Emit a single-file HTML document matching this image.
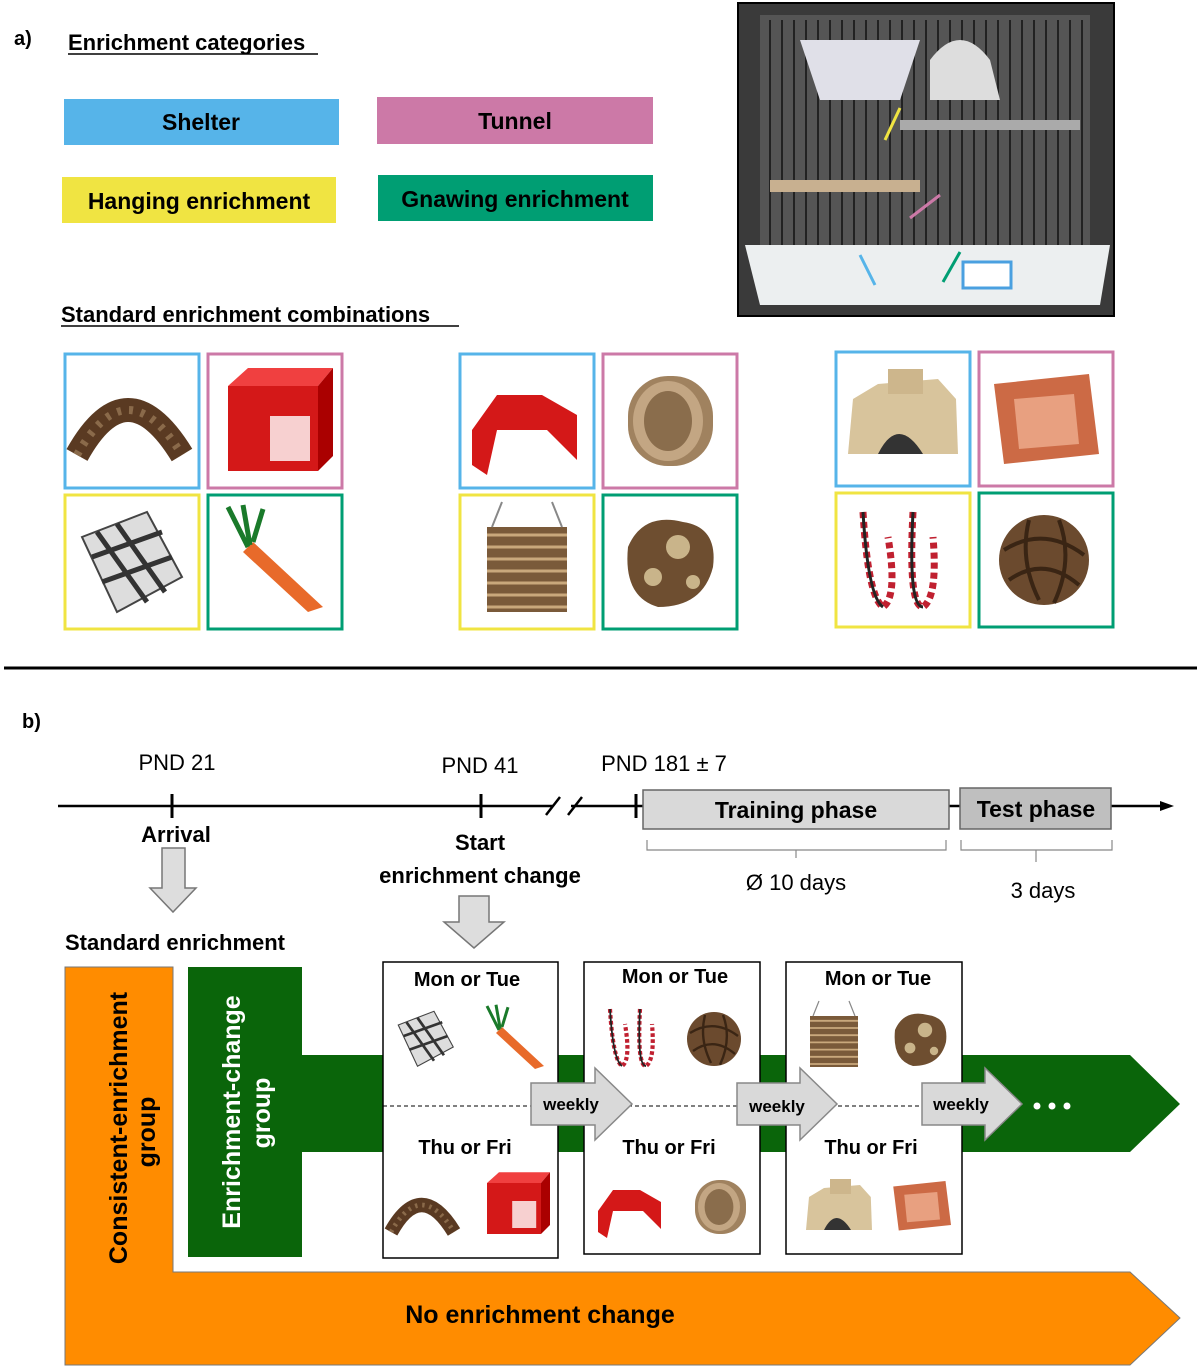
<!DOCTYPE html>
<html><head><meta charset="utf-8"><style>
body{margin:0;background:#fff}
svg{display:block;font-family:"Liberation Sans",sans-serif}
.b{font-weight:bold}
</style></head><body>
<svg width="1200" height="1369" viewBox="0 0 1200 1369" xmlns="http://www.w3.org/2000/svg">
<defs>
<g id="logs"><path d="M10 95 Q60 5 115 95" stroke="#5a3a22" stroke-width="24" fill="none"/><path d="M10 95 Q60 5 115 95" stroke="#8a6a4a" stroke-width="8" fill="none" stroke-dasharray="4 8"/></g>
<g id="cube"><rect x="20" y="30" width="90" height="85" fill="#d41818"/><polygon points="20,30 40,12 125,12 110,30" fill="#f04040"/><polygon points="110,30 125,12 125,100 110,115" fill="#a00"/><rect x="62" y="60" width="40" height="45" fill="#fff" opacity=".8"/></g>
<g id="cloth"><polygon points="15,40 80,15 115,80 50,115" fill="#ddd" stroke="#444" stroke-width="2"/><path d="M30 35 L80 105 M50 27 L98 95 M25 60 L95 35 M35 85 L105 60" stroke="#333" stroke-width="5"/></g>
<g id="carrot"><path d="M45 45 L115 110 L100 115 L35 55 Z" fill="#e86a2a"/><path d="M40 50 L20 10 M42 48 L35 8 M45 45 L55 12" stroke="#1a7a2a" stroke-width="5"/></g>
<g id="roof"><polygon points="10,60 35,25 80,25 115,45 115,90 85,60 35,60 25,105 10,95" fill="#d41818"/></g>
<g id="tube"><rect x="25" y="20" width="85" height="90" rx="40" fill="#a0825f"/><ellipse cx="65" cy="65" rx="35" ry="40" fill="#c3a683"/><ellipse cx="65" cy="65" rx="24" ry="30" fill="#8a6d4c"/></g>
<g id="ladder"><rect x="25" y="30" width="80" height="85" fill="#7a5a3a"/><path d="M25 38 H105 M25 50 H105 M25 62 H105 M25 74 H105 M25 86 H105 M25 98 H105 M25 110 H105" stroke="#c9a87c" stroke-width="3"/><path d="M30 30 L40 5 M100 30 L90 5" stroke="#888" stroke-width="2"/></g>
<g id="rock"><path d="M25 50 Q40 15 80 25 Q115 30 110 70 Q100 110 55 110 Q20 100 25 50Z" fill="#6e4e30"/><circle cx="75" cy="50" r="12" fill="#c9b48a"/><circle cx="50" cy="80" r="9" fill="#c9b48a"/><circle cx="90" cy="85" r="7" fill="#c9b48a"/></g>
<g id="house"><path d="M10 100 L15 45 L40 30 L100 25 L118 45 L120 100 Z" fill="#d8c49c"/><path d="M40 100 Q60 60 85 100Z" fill="#333"/><rect x="50" y="15" width="35" height="25" fill="#cdb68c"/></g>
<g id="terra"><polygon points="15,30 110,20 120,100 25,110" fill="#cc6a45"/><polygon points="35,45 95,40 100,90 40,95" fill="#e8a080"/></g>
<g id="rope"><path d="M25 15 Q30 100 45 110 Q60 100 50 40 M75 15 Q70 110 85 110 Q100 100 95 40" stroke="#c02030" stroke-width="7" fill="none" stroke-dasharray="6 4"/><path d="M25 15 Q30 100 45 110 M75 15 Q70 110 85 110" stroke="#222" stroke-width="3" fill="none"/></g>
<g id="ball"><circle cx="65" cy="65" r="45" fill="#6b4a2e"/><path d="M25 55 Q65 30 105 60 M30 85 Q65 60 100 90 M50 25 Q40 65 60 105 M80 25 Q95 65 75 108" stroke="#3a2514" stroke-width="4" fill="none"/></g>
</defs>

<text x="14" y="45" font-size="20" class="b">a)</text>
<text x="68" y="50" font-size="22" class="b">Enrichment categories</text>
<line x1="68" y1="54" x2="318" y2="54" stroke="#000" stroke-width="1.5"/>

<rect x="64" y="99" width="275" height="46" fill="#56B4E9"/>
<text x="201" y="130" font-size="23" class="b" text-anchor="middle">Shelter</text>
<rect x="377" y="97" width="276" height="47" fill="#CC79A7"/>
<text x="515" y="129" font-size="23" class="b" text-anchor="middle">Tunnel</text>
<rect x="62" y="177" width="274" height="46" fill="#F0E442"/>
<text x="199" y="209" font-size="23" class="b" text-anchor="middle">Hanging enrichment</text>
<rect x="378" y="175" width="275" height="46" fill="#009E73"/>
<text x="515" y="207" font-size="23" class="b" text-anchor="middle">Gnawing enrichment</text>

<!-- cage photo -->
<rect x="738" y="3" width="376" height="313" fill="#3a3a3a" stroke="#000" stroke-width="2"/>
<rect x="760" y="15" width="330" height="230" fill="#555"/>
<g stroke="#222" stroke-width="2">
<path d="M770 20V250M782 20V250M794 20V250M806 20V250M818 20V250M830 20V250M842 20V250M854 20V250M866 20V250M878 20V250M890 20V250M902 20V250M914 20V250M926 20V250M938 20V250M950 20V250M962 20V250M974 20V250M986 20V250M998 20V250M1010 20V250M1022 20V250M1034 20V250M1046 20V250M1058 20V250M1070 20V250M1082 20V250"/>
</g>
<polygon points="800,40 920,40 900,100 820,100" fill="#e0e0e8"/>
<path d="M930 60 Q960 20 990 60 L1000 100 L930 100Z" fill="#ddd"/>
<rect x="770" y="180" width="150" height="12" fill="#c8b090"/>
<rect x="900" y="120" width="180" height="10" fill="#aaa"/>
<path d="M745 245 H1110 L1100 305 H760 Z" fill="#eceff0"/>
<rect x="963" y="262" width="48" height="26" fill="#fff" stroke="#4aa0e0" stroke-width="3"/>
<line x1="885" y1="140" x2="900" y2="108" stroke="#F0E442" stroke-width="3"/>
<line x1="910" y1="218" x2="940" y2="195" stroke="#CC79A7" stroke-width="3"/>
<line x1="875" y1="285" x2="860" y2="255" stroke="#56B4E9" stroke-width="3"/>
<line x1="943" y1="282" x2="960" y2="252" stroke="#009E73" stroke-width="3"/>

<text x="61" y="322" font-size="22" class="b">Standard enrichment combinations</text>
<line x1="61" y1="326" x2="459" y2="326" stroke="#000" stroke-width="1.5"/>

<!-- image grid -->
<g fill="#fff" stroke-width="3">
<rect x="65" y="354" width="134" height="134" stroke="#56B4E9"/>
<rect x="208" y="354" width="134" height="134" stroke="#CC79A7"/>
<rect x="65" y="495" width="134" height="134" stroke="#F0E442"/>
<rect x="208" y="495" width="134" height="134" stroke="#009E73"/>
<rect x="460" y="354" width="134" height="134" stroke="#56B4E9"/>
<rect x="603" y="354" width="134" height="134" stroke="#CC79A7"/>
<rect x="460" y="495" width="134" height="134" stroke="#F0E442"/>
<rect x="603" y="495" width="134" height="134" stroke="#009E73"/>
<rect x="836" y="352" width="134" height="134" stroke="#56B4E9"/>
<rect x="979" y="352" width="134" height="134" stroke="#CC79A7"/>
<rect x="836" y="493" width="134" height="134" stroke="#F0E442"/>
<rect x="979" y="493" width="134" height="134" stroke="#009E73"/>
</g>
<use href="#logs" x="67" y="360"/><use href="#cube" x="208" y="356"/>
<use href="#cloth" x="67" y="497"/><use href="#carrot" x="208" y="497"/>
<use href="#roof" x="462" y="370"/><use href="#tube" x="603" y="356"/>
<use href="#ladder" x="462" y="497"/><use href="#rock" x="603" y="497"/>
<use href="#house" x="838" y="354"/><use href="#terra" x="979" y="354"/>
<use href="#rope" x="838" y="497"/><use href="#ball" x="979" y="495"/>

<line x1="4" y1="668" x2="1197" y2="668" stroke="#000" stroke-width="3"/>

<!-- b -->
<text x="22" y="728" font-size="20" class="b">b)</text>
<line x1="58" y1="806" x2="1162" y2="806" stroke="#000" stroke-width="2.5"/>
<polygon points="1160,801 1174,806 1160,811" fill="#000"/>
<line x1="172" y1="794" x2="172" y2="818" stroke="#000" stroke-width="3"/>
<line x1="481" y1="794" x2="481" y2="818" stroke="#000" stroke-width="3"/>
<line x1="636" y1="794" x2="636" y2="818" stroke="#000" stroke-width="3"/>
<rect x="553" y="795" width="18" height="22" fill="#fff"/>
<line x1="546" y1="815" x2="560" y2="797" stroke="#000" stroke-width="2.5"/>
<line x1="568" y1="815" x2="582" y2="797" stroke="#000" stroke-width="2.5"/>
<text x="177" y="770" font-size="22" text-anchor="middle">PND 21</text>
<text x="480" y="773" font-size="22" text-anchor="middle">PND 41</text>
<text x="664" y="771" font-size="22" text-anchor="middle">PND 181 ± 7</text>
<rect x="643" y="790" width="306" height="39" fill="#d9d9d9" stroke="#666" stroke-width="1.5"/>
<text x="796" y="818" font-size="23" class="b" text-anchor="middle">Training phase</text>
<rect x="960" y="788" width="151" height="41" fill="#bfbfbf" stroke="#666" stroke-width="1.5"/>
<text x="1036" y="817" font-size="23" class="b" text-anchor="middle">Test phase</text>
<path d="M647 840 V850 H796 V858 M796 850 H946 V840" stroke="#888" stroke-width="1.2" fill="none"/>
<path d="M961 840 V850 H1036 V862 M1036 850 H1112 V840" stroke="#888" stroke-width="1.2" fill="none"/>
<text x="796" y="890" font-size="22" text-anchor="middle">Ø 10 days</text>
<text x="1043" y="898" font-size="22" text-anchor="middle">3 days</text>

<text x="176" y="842" font-size="22" class="b" text-anchor="middle">Arrival</text>
<polygon points="162,848 185,848 185,888 196,888 173,912 150,888 162,888" fill="#ddd" stroke="#777" stroke-width="1.5"/>
<text x="480" y="850" font-size="22" class="b" text-anchor="middle">Start</text>
<text x="480" y="883" font-size="22" class="b" text-anchor="middle">enrichment change</text>
<polygon points="459,896 489,896 489,922 504,922 474,948 444,922 459,922" fill="#ddd" stroke="#777" stroke-width="1.5"/>
<text x="175" y="950" font-size="22" class="b" text-anchor="middle">Standard enrichment</text>

<!-- orange -->
<polygon points="65,967 173,967 173,1272 1130,1272 1180,1318 1130,1365 65,1365" fill="#FF8C00" stroke="#777" stroke-width="1"/>
<text x="540" y="1323" font-size="25" class="b" text-anchor="middle">No enrichment change</text>
<text transform="translate(127,1128) rotate(-90)" font-size="25" class="b" text-anchor="middle">Consistent-enrichment</text>
<text transform="translate(155,1132) rotate(-90)" font-size="25" class="b" text-anchor="middle">group</text>

<!-- green -->
<polygon points="188,967 302,967 302,1055 1130,1055 1180,1104 1130,1152 302,1152 302,1257 188,1257" fill="#0a650a"/>
<text transform="translate(240,1112) rotate(-90)" font-size="25" class="b" fill="#fff" text-anchor="middle">Enrichment-change</text>
<text transform="translate(270,1113) rotate(-90)" font-size="25" class="b" fill="#fff" text-anchor="middle">group</text>

<g fill="#fff" stroke="#000" stroke-width="1.5">
<rect x="383" y="962" width="175" height="296"/>
<rect x="584" y="962" width="176" height="292"/>
<rect x="786" y="962" width="176" height="292"/>
</g>
<line x1="383" y1="1106" x2="1010" y2="1106" stroke="#000" stroke-width="1" stroke-dasharray="4 3"/>
<g font-size="20" class="b" text-anchor="middle">
<text x="467" y="986">Mon  or  Tue</text><text x="675" y="983">Mon  or  Tue</text><text x="878" y="985">Mon  or  Tue</text>
<text x="465" y="1154">Thu  or Fri</text><text x="669" y="1154">Thu  or Fri</text><text x="871" y="1154">Thu  or Fri</text>
</g>
<use href="#cloth" transform="translate(390,1003) scale(0.55)"/>
<use href="#carrot" transform="translate(475,1000) scale(0.6)"/>
<use href="#rope" transform="translate(595,1000) scale(0.6)"/>
<use href="#ball" transform="translate(675,1000) scale(0.6)"/>
<use href="#ladder" transform="translate(795,998) scale(0.6)"/>
<use href="#rock" transform="translate(880,1000) scale(0.6)"/>
<use href="#logs" transform="translate(385,1175) scale(0.6)"/>
<use href="#cube" transform="translate(475,1165) scale(0.6)"/>
<use href="#roof" transform="translate(592,1175) scale(0.6)"/>
<use href="#tube" transform="translate(680,1168) scale(0.6)"/>
<use href="#house" transform="translate(800,1170) scale(0.6)"/>
<use href="#terra" transform="translate(885,1170) scale(0.55)"/>

<g fill="#d9d9d9" stroke="#888" stroke-width="1.5">
<polygon points="531,1083 595,1083 595,1068 632,1104 595,1140 595,1125 531,1125"/>
<polygon points="737,1083 800,1083 800,1068 837,1104 800,1140 800,1125 737,1125"/>
<polygon points="922,1083 985,1083 985,1068 1022,1104 985,1140 985,1125 922,1125"/>
</g>
<g font-size="17" class="b" text-anchor="middle">
<text x="571" y="1110">weekly</text><text x="777" y="1112">weekly</text><text x="961" y="1110">weekly</text>
</g>
<g fill="#fff"><circle cx="1037" cy="1106" r="3.5"/><circle cx="1052" cy="1106" r="3.5"/><circle cx="1067" cy="1106" r="3.5"/></g>
</svg>
</body></html>
